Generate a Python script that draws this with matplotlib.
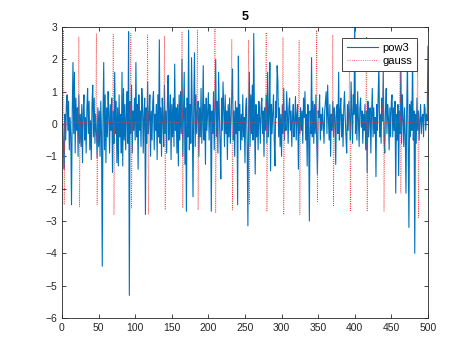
import numpy as np
import matplotlib
matplotlib.use('Agg')
import matplotlib.pyplot as plt

# --- data (500 samples) ---
pow3 = [
    0.0, -0.6, -1.4, 0.3, -0.5, 0.6, 0.9, -0.2, 0.7, -0.8, 0.2, -0.4, -2.5, 0.4, 1.9, -0.3, 1.6, -0.9, 0.8, -0.2, 0.5, -1.0, 0.9, -0.6, 0.3,
    -0.7, 0.6, -1.2, 0.4, 0.9, -0.5, 0.2, -0.9, 0.5, 1.1, -0.3, 0.7, -0.8, 0.1, -1.1, 0.6, 1.2, -0.4, 0.8, -0.6, 0.3, -0.2, -1.05, 0.5, -0.7,
    0.4, -1.0, 0.7, -0.3, -4.4, 0.2, 1.9, -0.8, 0.9, -1.2, 0.5, -0.4, 1.0, 0.3, -0.9, 0.6, -0.2, 0.8, -1.5, 0.4, -0.6, 1.6, -0.3, 0.7, -1.2,
    0.5, -1.3, 0.9, -0.4, 0.3, -0.9, 1.6, -1.3, 1.1, -0.5, 0.6, -0.8, 0.2, 1.0, -0.6, 2.85, -5.3, 0.7, -0.3, 1.2, -0.9, 0.4, -0.2, 0.8, -0.5,
    1.9, -0.4, 0.6, -1.4, 0.9, -0.2, 0.4, -0.7, 1.1, 0.6, -0.9, 0.3, 0.8, -2.8, 0.5, -0.6, 1.3, -0.3, 0.2, 0.9, -1.0, 0.4, -0.5, 0.7, 1.0,
    -0.8, 0.3, -0.2, 0.6, -1.1, 0.9, -0.4, 2.6, -0.6, 0.5, -1.0, 0.8, 0.2, -0.7, 1.2, -0.3, 0.4, -0.9, 0.7, 1.5, -0.5, 0.3, 0.9, -1.1, 0.6,
    -0.4, 0.8, -0.7, 1.85, -0.2, 0.5, -0.9, 0.6, -1.3, 0.9, -0.5, 1.0, -0.3, 2.0, -1.0, 0.4, 1.6, -1.25, 0.5, -2.7, 0.8, -0.4, 2.9, -0.8, 0.6,
    -0.6, 2.05, 0.3, -2.25, 0.5, 2.2, -0.7, 0.9, -0.3, 0.4, 0.7, -1.0, 0.5, -0.4, 1.1, -0.6, 0.3, 1.8, -0.5, 0.6, -1.25, 0.8, -0.2, 0.4, 0.97,
    -0.5, 0.6, 0.2, -2.7, 0.4, -0.3, 1.0, -0.8, 0.5, 2.0, -0.4, 0.7, -0.9, 1.6, 0.3, -0.6, -1.7, 0.8, -0.2, 1.3, 0.5, -0.7, 0.9, -0.3, 0.4,
    -1.1, 0.6, -0.4, 0.8, -0.6, 0.2, 1.0, 1.7, -0.5, 0.4, -1.0, 0.7, -0.3, 0.5, -2.5, 2.1, -0.2, 0.6, -0.8, 0.3, -0.5, 0.9, -0.4, 0.2, -1.2,
    0.5, 0.8, -0.6, -3.15, 0.4, 1.6, -0.7, 0.9, -0.3, 1.2, -0.5, 2.8, 0.1, -1.55, 0.6, -0.4, 0.3, -0.8, 0.7, 0.2, -0.6, 0.5, 0.8, -0.3, 0.4,
    -1.0, 0.5, -0.2, 0.9, -0.6, 1.6, -0.4, 0.3, 1.9, -1.45, 0.6, -0.3, 0.4, 0.9, -0.5, -1.3, 0.7, 0.2, 1.8, 1.3, -0.4, 0.5, -0.7, 0.3, -1.0,
    0.6, -0.3, 1.1, -0.5, 0.4, -0.2, 1.0, 0.3, -0.6, 0.5, 0.8, -0.2, 0.4, -0.7, 0.2, 0.6, -0.4, 0.1, 0.85, -0.5, 0.3, 0.6, -1.4, 0.2, -0.3,
    0.5, -0.2, 0.4, -0.6, 0.8, 0.2, 1.0, -0.5, 0.3, -1.3, 0.6, -0.2, -3.0, 0.4, -0.3, 2.05, -0.4, 0.7, -0.6, 0.6, -0.3, 0.9, -0.5, -1.55, 0.4,
    0.2, 0.9, -0.5, 0.3, -0.2, 0.5, 0.0, -0.6, 0.4, 0.7, 1.0, -0.3, 1.2, 0.2, -0.5, 0.6, -1.0, 0.3, -0.2, 0.7, -0.4, 0.5, 0.2, -1.25, 0.4,
    0.6, -0.3, 1.6, -0.5, 0.4, 0.8, -0.4, 0.3, -0.7, 0.5, 1.0, 0.2, -0.4, -0.9, 0.6, -0.2, 0.7, 0.2, -0.5, 1.3, 0.4, -0.6, 0.9, 0.3, 3.3,
    -0.3, 0.6, -0.5, 1.0, 0.2, -0.7, 0.5, 0.8, -0.1, 0.4, -0.6, 0.3, -0.2, 0.6, -0.8, 0.4, -1.5, 0.7, -0.4, 0.2, 0.5, -0.9, 0.3, 1.1, -0.4,
    0.5, -0.3, 0.2, -1.63, 0.6, -0.2, 0.9, 1.9, -0.4, 0.3, -0.6, 0.8, 0.1, 1.6, -0.5, -0.9, 0.4, 1.1, -0.3, 0.6, 0.2, -0.8, 0.5, -0.4, 0.7,
    0.9, -0.4, 0.5, -0.2, 0.7, -2.14, 0.3, -0.5, 0.6, -1.6, 0.4, -0.3, 2.0, -0.6, 0.9, 0.2, -0.7, 0.5, -0.3, -2.14, 0.4, 2.0, -0.5, -3.2, 0.6,
    -0.4, 0.7, -0.2, 2.2, -0.5, 0.4, -4.0, 0.3, -0.6, 0.8, -0.2, 0.4, -0.5, 0.1, 0.6, -0.3, 0.2, 0.3, -0.4, 0.6, 0.5, -0.2, 0.3, 0.1, 2.4,
]

# gauss: flat near zero with a spike pair (up then down) roughly every 23 samples
gauss_base = 0.05
gauss_up_idx = [1, 22, 46, 69, 93, 116, 139, 163, 184, 208, 231,
                254, 278, 301, 323, 347, 369, 392, 415, 438, 461, 485]
gauss_top = [2.9, 2.7, 2.8, 2.78, 2.8, 2.75, 2.72, 2.86, 2.9, 2.96, 2.62,
             2.6, 2.83, 2.68, 2.58, 2.9, 2.75, 2.6, 2.7, 2.6, 2.3, 2.5]
gauss_bot = [-2.5, -2.56, -2.5, -2.81, -2.6, -2.8, -2.66, -2.6, -2.66, -2.76, -2.66,
             -2.5, -2.71, -2.81, -2.81, -2.4, -2.56, -2.71, -2.71, -2.71, -2.14, -2.9]

gauss = np.full(len(pow3), gauss_base)
up = np.array(gauss_up_idx)
gauss[up] = gauss_top
gauss[up + 1] = gauss_bot

x = np.arange(1, len(pow3) + 1)

plt.rcParams['font.family'] = ['Liberation Sans', 'DejaVu Sans']

fig = plt.figure(figsize=(4.74, 3.55), dpi=100)
ax = fig.add_axes([0.1308, 0.1042, 0.772, 0.820])

ax.plot(x, pow3, color=(0.0, 0.447, 0.741), linewidth=0.8, label='pow3')
ax.plot(x, gauss, color=(0.95, 0.25, 0.25), linestyle=':', linewidth=0.6, label='gauss')

ax.set_xlim(0, 500)
ax.set_ylim(-6, 3)
ax.set_xticks(np.arange(0, 501, 50))
ax.set_yticks(np.arange(-6, 4, 1))
ax.tick_params(direction='in', length=3, width=0.6, labelsize=7.5,
               colors=(0.15, 0.15, 0.15), top=True, right=True)
for s in ax.spines.values():
    s.set_color((0.15, 0.15, 0.15))
    s.set_linewidth(0.6)

ax.set_title('5', fontsize=9, fontweight='bold', pad=5)

leg = ax.legend(loc='upper right', bbox_to_anchor=(0.970, 0.962), borderaxespad=0,
                fontsize=8, fancybox=False, framealpha=1, handlelength=2.8,
                borderpad=0.45, labelspacing=0.25, handletextpad=0.4)
leg.get_frame().set_edgecolor((0.15, 0.15, 0.15))
leg.get_frame().set_linewidth(0.6)

fig.savefig('out.png', dpi=100)
